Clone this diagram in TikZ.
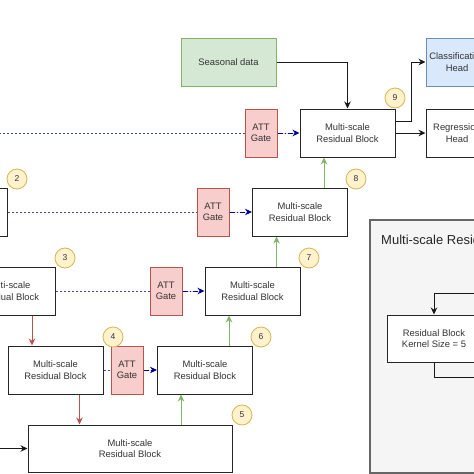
\documentclass[tikz,border=0pt]{standalone}
\usepackage{fontspec}
\setmainfont{Liberation Sans}
\usetikzlibrary{arrows.meta,calc}
\definecolor{gfill}{HTML}{D5E8D4}\definecolor{gline}{HTML}{82B366}
\definecolor{bfill}{HTML}{DAE8FC}\definecolor{bline}{HTML}{6C8EBF}
\definecolor{rfill}{HTML}{F8CECC}\definecolor{rline}{HTML}{B85450}
\definecolor{yfill}{HTML}{FFF2CC}\definecolor{yline}{HTML}{D6B656}
\definecolor{pfill}{HTML}{F5F5F5}\definecolor{pline}{HTML}{666666}
\definecolor{dotc}{HTML}{4646A0}\definecolor{dashc}{HTML}{000099}
\definecolor{txt}{HTML}{333333}
\begin{document}
\begin{tikzpicture}[x=1pt,y=-1pt,
  box/.style={draw=black!85,line width=1pt,fill=white,align=center,text=txt,
    font=\fontsize{9.4}{11.6}\selectfont,inner sep=0pt,minimum height=48pt},
  mrb/.style={box,minimum width=95pt},
  gate/.style={box,draw=rline,fill=rfill,minimum width=32pt},
  num/.style={circle,draw=yline,fill=yfill,line width=0.8pt,minimum size=20pt,inner sep=0pt,
    text=txt,font=\fontsize{8.5}{10}\selectfont},
  tip/.style={-{Stealth[length=7pt,width=6.5pt]}},
  blk/.style={tip,draw=black!90,line width=1pt},
  redarr/.style={tip,draw=rline,line width=1pt},
  grnarr/.style={tip,draw=gline,line width=1pt},
  dotline/.style={draw=dotc,line width=1pt,dash pattern=on 2pt off 2pt},
  dasharr/.style={tip,draw=dashc,fill=dashc,line width=1pt,dash pattern=on 5pt off 2pt on 1.5pt off 2pt}
]
\useasboundingbox[fill=white] (0,0) rectangle (474,474);

% right panel
\node[draw=pline,fill=pfill,line width=1.2pt,minimum width=150pt,minimum height=253pt,inner sep=0pt] (panel) at (445,346.5) {};
\node[anchor=base west,inner sep=0pt,text=black!85,font=\fontsize{13}{15}\selectfont] (ptitle) at (381,244) {Multi-scale Residual Block};
\node[box,minimum width=94pt,minimum height=47pt] (rb) at (434,338.5) {Residual Block\\Kernel Size = 5};
\coordinate (lpA) at (495,377);
\coordinate (lpB) at (495,293);
\draw[draw=black!90,line width=1pt] (rb.south) |- (lpA);
\draw[blk] (lpB) -| (rb.north);

% top row
\node[box,draw=gline,fill=gfill,minimum width=95pt] (sea) at (228.5,62) {Seasonal data};
\node[box,draw=bline,fill=bfill,minimum width=62pt] (cls) at (457,62) {Classification\\Head};
\node[mrb] (m9) at (347.5,133) {Multi-scale\\Residual Block};
\node[box,minimum width=62pt] (reg) at (457,133) {Regression\\Head};
\node[gate] (att1) at (261,133) {ATT\\Gate};
\coordinate (L1) at (-5,133);

% row 2
\node[mrb] (m2) at (-40,212) {};
\node[gate] (att2) at (213,212) {ATT\\Gate};
\node[mrb] (m8) at (300,212) {Multi-scale\\Residual Block};

% row 3
\node[mrb] (m3) at (8,291) {Multi-scale\\Residual Block};
\node[gate] (att3) at (166,291) {ATT\\Gate};
\node[mrb] (m7) at (252.5,291) {Multi-scale\\Residual Block};

% row 4
\node[mrb] (m4) at (55.5,370) {Multi-scale\\Residual Block};
\node[gate] (att4) at (127,370) {ATT\\Gate};
\node[mrb] (m6) at (205,370) {Multi-scale\\Residual Block};

% row 5
\node[box,minimum width=204pt,minimum height=47pt] (m5) at (130,448.5) {Multi-scale\\Residual Block};
\coordinate (L5) at (-5,448.5);

% skip connections
\draw[dotline] (L1) -- (att1.west);
\draw[dasharr] (att1.east) -- (m9.west);
\draw[dotline] (m2.east) -- (att2.west);
\draw[dasharr] (att2.east) -- (m8.west);
\draw[dotline] (m3.east) -- (att3.west);
\draw[dasharr] (att3.east) -- (m7.west);
\draw[dotline] (m4.east) -- (att4.west);
\draw[dasharr] (att4.east) -- (m6.west);

% encoder (red)
\draw[redarr] ($(m3.south west)!.75!(m3.south east)$) coordinate (r3) -- (r3 |- m4.north);
\draw[redarr] ($(m4.south west)!.75!(m4.south east)$) coordinate (r4) -- (r4 |- m5.north);

% decoder (green)
\coordinate (g5) at ($(m6.south west)!.25!(m6.south east)$);
\draw[grnarr] (g5 |- m5.north) -- (g5);
\draw[grnarr] ($(m6.north west)!.75!(m6.north east)$) coordinate (g6) -- (g6 |- m7.south);
\draw[grnarr] ($(m7.north west)!.75!(m7.north east)$) coordinate (g7) -- (g7 |- m8.south);
\draw[grnarr] ($(m8.north west)!.75!(m8.north east)$) coordinate (g8) -- (g8 |- m9.south);

% black arrows
\draw[blk] (L5) -- (m5.west);
\draw[blk] (sea.east) -| (m9.north);
\draw[blk] ($(m9.north east)!.27!(m9.south east)$) -- ++(15.5,0) |- (cls.west);
\draw[blk] (m9.east) -- (reg.west);

% step numbers
\node[num] (c2) at (17,179) {2};
\node[num] (c3) at (65,258) {3};
\node[num] (c4) at (113,337) {4};
\node[num] (c5) at (242,415) {5};
\node[num] (c6) at (261,337) {6};
\node[num] (c7) at (309,258) {7};
\node[num] (c8) at (356,179) {8};
\node[num] (c9) at (395,98) {9};
\end{tikzpicture}
\end{document}
